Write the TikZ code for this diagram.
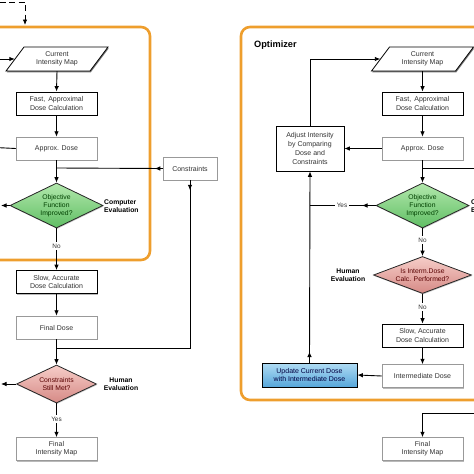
\documentclass[tikz,border=0pt]{standalone}
\usepackage{fontspec}
\setmainfont{Liberation Sans}
\usetikzlibrary{shapes.geometric,shadows,arrows.meta}
\definecolor{orng}{RGB}{238,158,45}
\definecolor{gtop}{RGB}{178,232,172}
\definecolor{gbot}{RGB}{96,190,100}
\definecolor{rtop}{RGB}{246,205,200}
\definecolor{rbot}{RGB}{214,138,134}
\definecolor{btop}{RGB}{176,220,244}
\definecolor{bbot}{RGB}{86,166,218}
\newcommand\boxfont{\fontsize{7}{8.2}\selectfont}
\newcommand\diafont{\fontsize{6.8}{8}\selectfont}
\newcommand\evalfont{\fontsize{6.8}{8}\selectfont\bfseries}
\begin{document}
\begin{tikzpicture}[x=1pt,y=-1pt,
  proc/.style={draw=black, line width=0.8pt, fill=white, minimum width=81pt, minimum height=23pt,
    inner sep=1pt, align=center, font=\boxfont, text=black!80,
    drop shadow={shadow xshift=0.8pt,shadow yshift=-1.3pt,fill=black!55}},
  datab/.style={proc, draw=black!40, line width=0.5pt},
  dia/.style={shape=diamond, draw=black!85, line width=0.8pt, inner sep=0pt, align=center, font=\diafont,
    drop shadow={shadow xshift=0.6pt,shadow yshift=-1pt,fill=black!45}},
  green dia/.style={dia, top color=gtop, bottom color=gbot, text=green!25!black},
  red dia/.style={dia, top color=rtop, bottom color=rbot, text=red!35!black},
  arr/.style={-{Latex[length=5.5pt,width=4.6pt]}, line width=0.9pt},
  conn/.style={line width=0.9pt},
  lbl/.style={fill=white, inner sep=1.5pt, font=\fontsize{6.4}{7}\selectfont, text=black!80},
  eval/.style={align=center, font=\evalfont, inner sep=0pt},
  frame/.style={draw=orng, line width=2.6pt, rounded corners=9pt},
  pgram/.style={draw=black, line width=0.8pt, fill=white}
]
\useasboundingbox (0,0) rectangle (474,474);
\clip (0,0) rectangle (474,474);

% ---------------- Left panel ----------------
\draw[frame] (-30,27) rectangle (150,260);
\coordinate (dashStart) at (-10,2);
\coordinate (dashCorner) at (25,2);
\coordinate (dashEnd) at (25,25);
\draw[arr, dash pattern=on 6pt off 3.5pt] (dashStart) -- (dashCorner) -- (dashEnd);

\coordinate (cimLc) at (57,59);
\fill[black!55] ([xshift=-8.2pt,yshift=-1.3pt]cimLc) ++(-42,12) -- ++(84,0) -- ++(18,-24) -- ++(-84,0) -- cycle;
\draw[pgram] (cimLc) ++(-51,12) -- ++(84,0) -- ++(18,-24) -- ++(-84,0) -- cycle;
\node[font=\boxfont, text=black!80, align=center, minimum width=84pt, minimum height=24pt, inner sep=0pt] (cimL) at (cimLc) {Current\\Intensity Map};

\node[proc] (fastL) at (56.5,103.5) {Fast,\, Approximal\\Dose Calculation};
\node[datab] (approxL) at (56.5,148.5) {Approx. Dose};
\node[datab, minimum width=54pt] (constr) at (190,168.5) {Constraints};
\node[green dia, minimum width=93pt, minimum height=45pt, aspect=2] (objL) at (56.5,205.5) {Objective\\Function\\Improved?};
\node[eval, align=left, anchor=west] (compL) at (104,206) {Computer\\Evaluation};
\node[proc] (slowL) at (56.5,282) {Slow, Accurate\\Dose Calculation};
\node[datab] (finalDoseL) at (56.5,327.5) {Final Dose};
\node[red dia, minimum width=80pt, minimum height=38pt, aspect=2] (conL) at (56.5,384) {Constraints\\Still Met?};
\node[eval] (humL) at (121,384) {Human\\Evaluation};
\node[datab] (finalMapL) at (56.5,449) {Final\\Intensity Map};

\coordinate (inL) at (-5,59);
\coordinate (outL) at (-5,147.5);
\coordinate (jL1) at (56.5,168);
\coordinate (jL2) at (190,348);
\coordinate (jL3) at (56.5,348);
\coordinate (exitL1) at (1,205.5);
\coordinate (exitL2) at (1,384);

\draw[arr] (inL) -- (cimL.west);
\draw[arr] (cimL.south) -- (fastL.north);
\draw[arr] (fastL.south) -- (approxL.north);
\draw[conn] (approxL.west) -- (outL);
\draw[arr] (approxL.south) -- (objL.north);
\draw[conn] (constr.west) -- (jL1);
\draw[arr] (constr.west) -- ++(-8,0);
\draw[conn] (constr.south) -- (jL2) -- (jL3);
\draw[arr] (constr.south) -- ++(0,10);
\draw[arr] (objL.west) -- (exitL1);
\draw[arr] (objL.south) -- (slowL.north);
\node[lbl] at (56.5,246) {No};
\draw[arr] (slowL.south) -- (finalDoseL.north);
\draw[arr] (finalDoseL.south) -- (conL.north);
\draw[arr] (conL.west) -- (exitL2);
\draw[arr] (conL.south) -- (finalMapL.north);
\node[lbl] at (56.5,419) {Yes};

% ---------------- Right panel ----------------
\draw[frame] (241,27) rectangle (520,400);
\node[font=\fontsize{9.2}{10}\selectfont\bfseries, anchor=west, inner sep=0pt] (opt) at (254,45) {Optimizer};

\coordinate (cimRc) at (422.5,59);
\fill[black!55] ([xshift=-8.2pt,yshift=-1.3pt]cimRc) ++(-42,12) -- ++(84,0) -- ++(18,-24) -- ++(-84,0) -- cycle;
\draw[pgram] (cimRc) ++(-51,12) -- ++(84,0) -- ++(18,-24) -- ++(-84,0) -- cycle;
\node[font=\boxfont, text=black!80, align=center, minimum width=84pt, minimum height=24pt, inner sep=0pt] (cimR) at (cimRc) {Current\\Intensity Map};

\node[proc] (fastR) at (422.5,103.5) {Fast,\, Approximal\\Dose Calculation};
\node[datab] (approxR) at (422.5,148.5) {Approx. Dose};
\node[proc, minimum width=68pt, minimum height=45pt, font=\fontsize{7}{9}\selectfont] (adjust) at (310,148.5) {Adjust Intensity\\by Comparing\\Dose and\\Constraints};
\node[green dia, minimum width=93pt, minimum height=45pt, aspect=2] (objR) at (422.5,205.5) {Objective\\Function\\Improved?};
\node[eval, align=left, anchor=west] (compR) at (471,206) {Computer\\Evaluation};
\node[red dia, minimum width=98pt, minimum height=37pt, aspect=2.6] (interm) at (422.5,275) {Is Interm.Dose\\Calc. Performed?};
\node[eval] (humR) at (348,275.5) {Human\\Evaluation};
\node[proc] (slowR) at (422.5,335.5) {Slow, Accurate\\Dose Calculation};
\node[datab] (intermD) at (422.5,376) {Intermediate Dose};
\node[proc, minimum width=95pt, minimum height=24pt, top color=btop, bottom color=bbot, text=blue!25!black] (update) at (309.5,375) {Update Current Dose\\with Intermediate Dose};
\node[datab] (finalMapR) at (422.5,449) {Final\\Intensity Map};

\coordinate (jR1) at (422.5,168);
\coordinate (jR1e) at (500,168);
\coordinate (yesTip) at (362,205.5);
\coordinate (jR2) at (310,205.5);
\coordinate (botR1) at (500,413);
\coordinate (botR2) at (422.5,413);

\draw[arr] (adjust.north) |- (cimR.west);
\draw[arr] (cimR.south) -- (fastR.north);
\draw[arr] (fastR.south) -- (approxR.north);
\draw[arr] (approxR.west) -- (adjust.east);
\draw[arr] (approxR.south) -- (objR.north);
\draw[conn] (jR1) -- (jR1e);
\draw[conn] (objR.west) -- (jR2);
\draw[arr] (objR.west) -- (yesTip);
\node[lbl] (yesR) at (342,205.5) {Yes};
\draw[arr] (update.north) -- (adjust.south);
\draw[arr] (update.north) -- ++(0,-11);
\draw[arr] (objR.south) -- (interm.north);
\node[lbl] at (422.5,240) {No};
\draw[arr] (interm.south) -- (slowR.north);
\node[lbl] at (422.5,307) {No};
\draw[arr] (slowR.south) -- (intermD.north);
\draw[arr] (intermD.west) -- (update.east);
\draw[arr] (botR1) -- (botR2) -- (finalMapR.north);
\end{tikzpicture}
\end{document}
